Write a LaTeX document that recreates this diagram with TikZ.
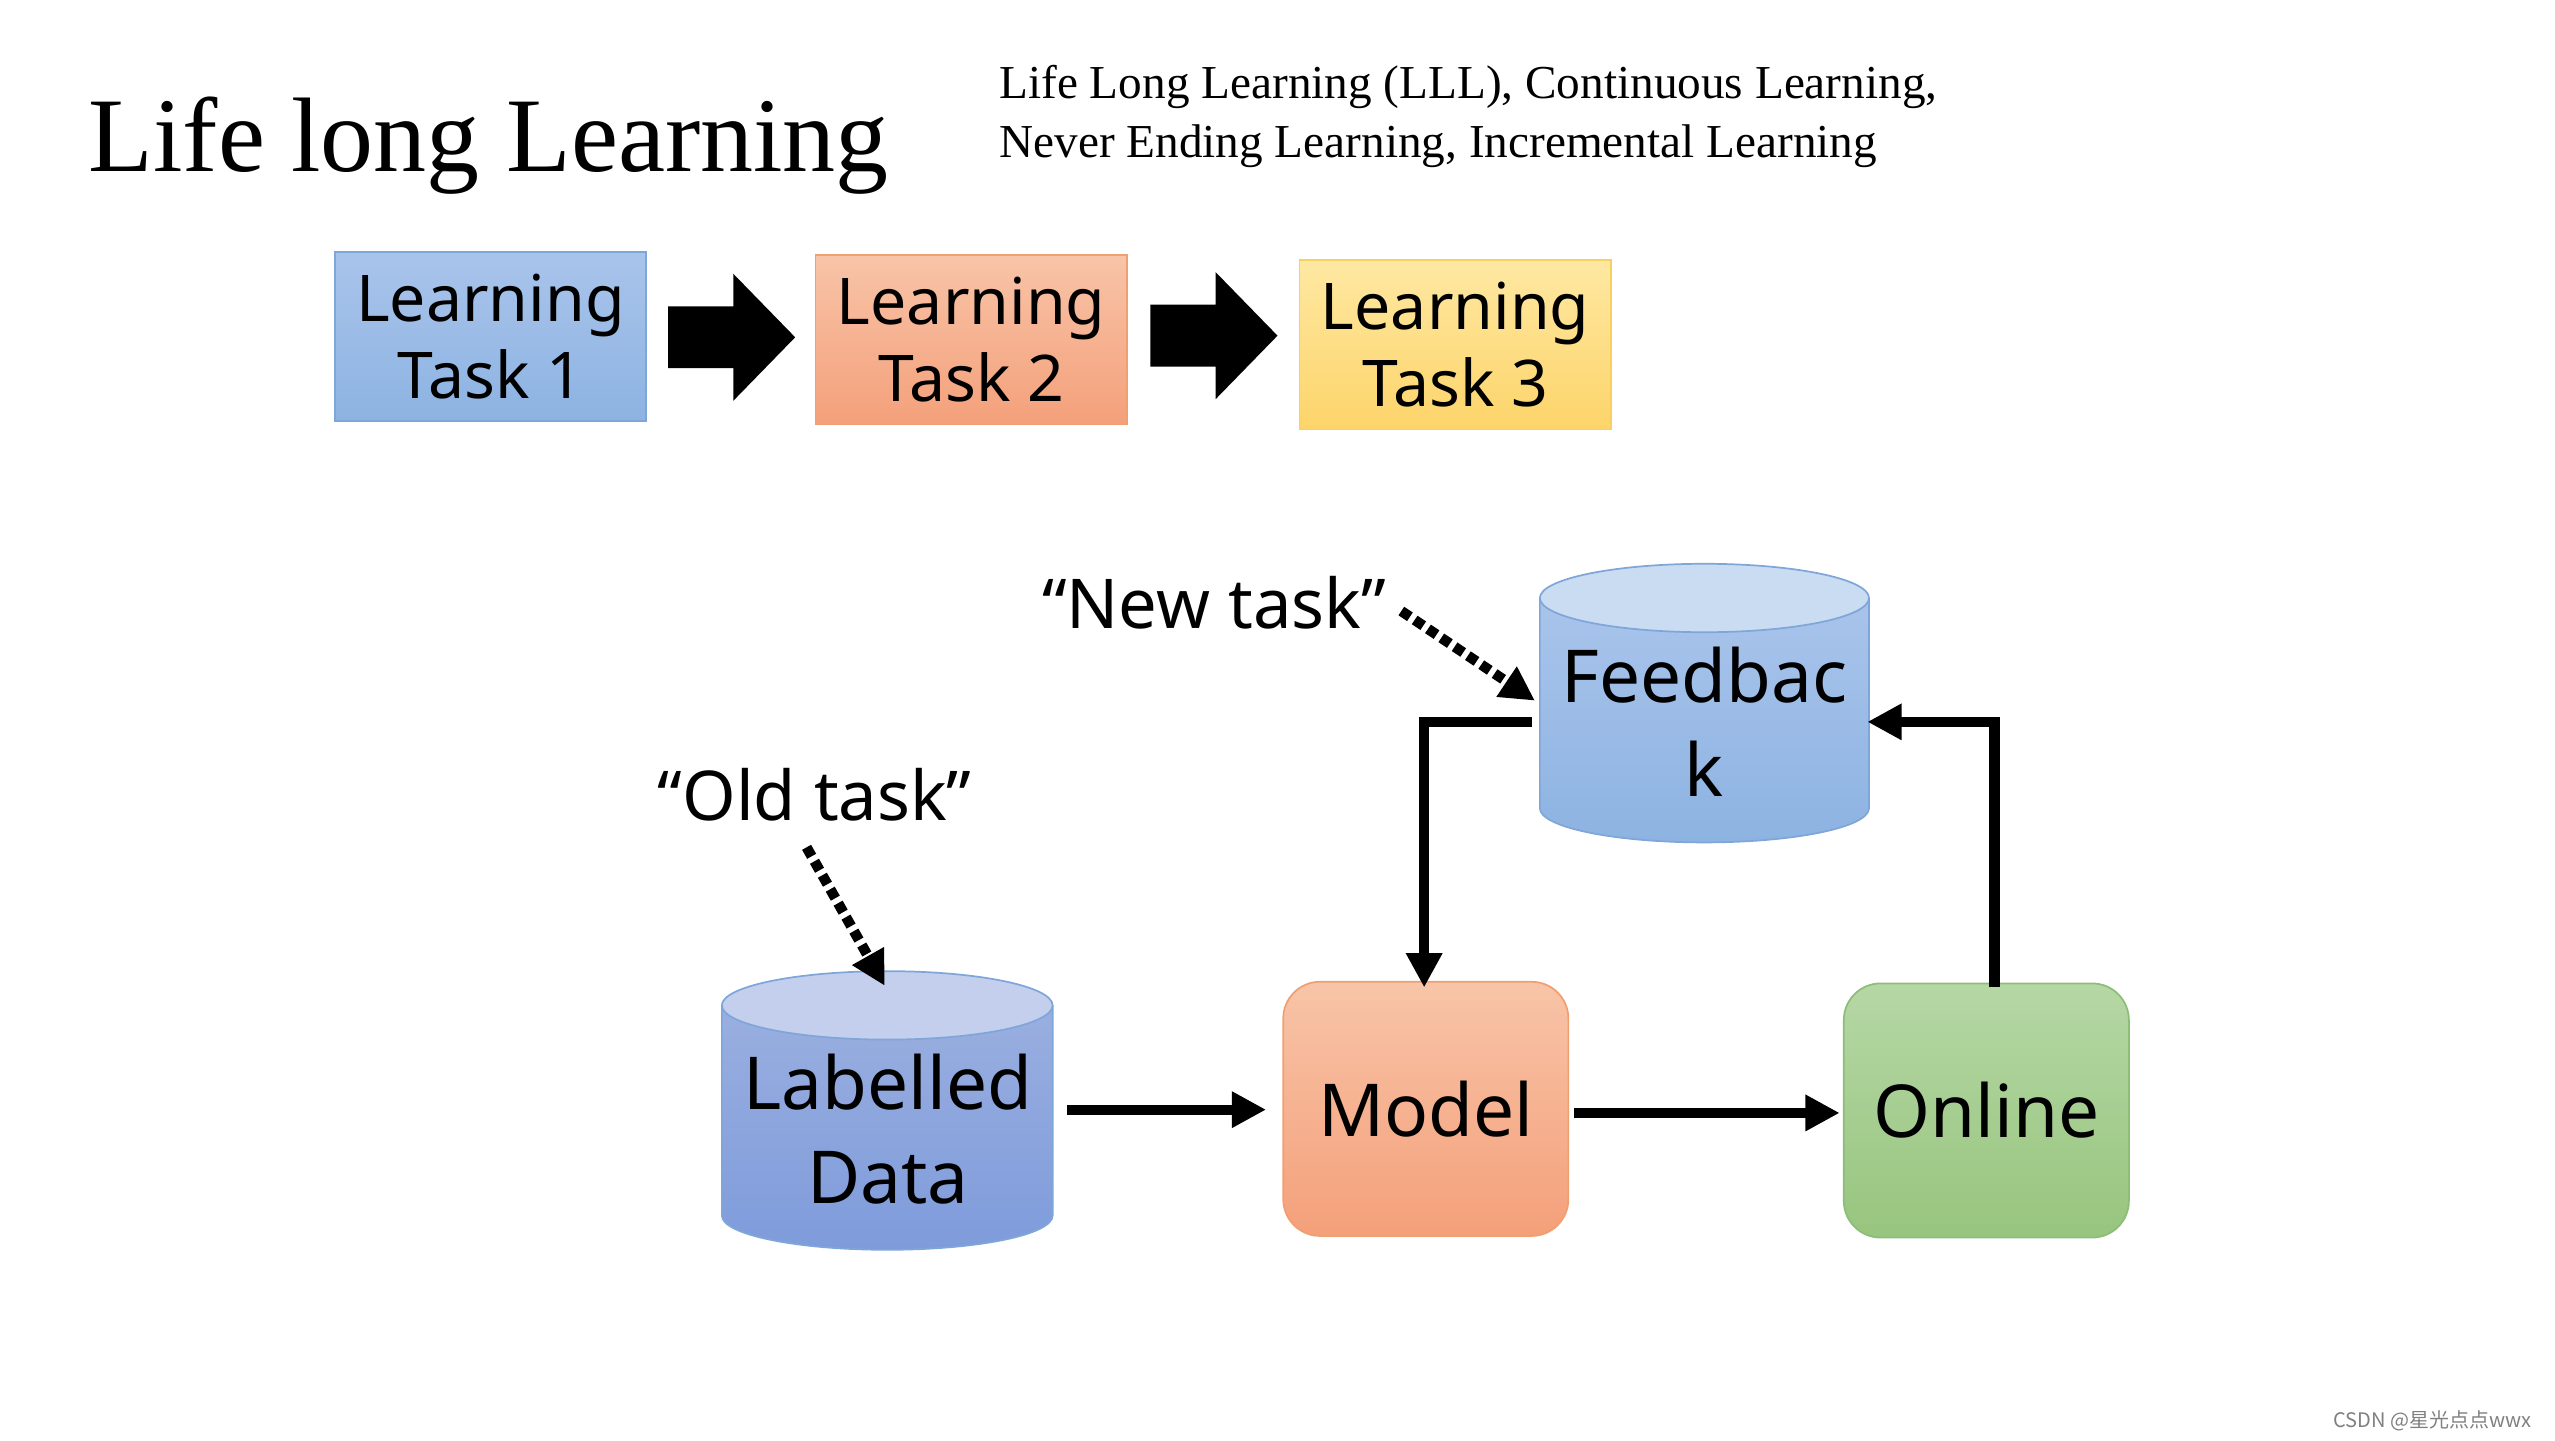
\documentclass[tikz,border=0pt]{standalone}
\usepackage{fontspec}
\setmainfont{Liberation Serif}
\newfontfamily\sansf{Noto Sans}
\newfontfamily\cjk{Noto Sans CJK SC}
\usetikzlibrary{arrows.meta}
\definecolor{bA}{HTML}{A9C4EB}\definecolor{bB}{HTML}{8DB3E2}\definecolor{bL}{HTML}{7FA6D9}
\definecolor{oA}{HTML}{F8C4A8}\definecolor{oB}{HTML}{F4A07A}\definecolor{oL}{HTML}{F0A070}
\definecolor{yA}{HTML}{FEE8A2}\definecolor{yB}{HTML}{FDD46A}\definecolor{yL}{HTML}{F9D060}
\definecolor{gA}{HTML}{B5D7A5}\definecolor{gB}{HTML}{97C57E}\definecolor{gL}{HTML}{8CBE78}
\definecolor{dA}{HTML}{9AAFE0}\definecolor{dB}{HTML}{7E9BDB}\definecolor{dT}{HTML}{C3CFEC}
\definecolor{fT}{HTML}{C9DCF2}
\tikzset{
 taskbox/.style={draw, line width=0.6pt, minimum width=3.82cm, minimum height=2.08cm, anchor=north west, inner sep=0pt, align=center, font=\sansf\fontsize{22.5}{27}\selectfont},
 rbox/.style={draw, line width=0.6pt, rounded corners=0.45cm, minimum width=3.5cm, minimum height=3.12cm, anchor=north west, align=center, font=\sansf\fontsize{25.5}{30}\selectfont},
 conn/.style={line width=3.6pt, -{Triangle[length=0.42cm,width=0.42cm]}},
 dconn/.style={line width=3.6pt, dotted, -{Triangle[length=0.42cm,width=0.42cm]}},
 lbl/.style={font=\sansf\fontsize{24}{28}\selectfont},
}
\begin{document}
\begin{tikzpicture}[x=0.02cm,y=-0.02cm]
\useasboundingbox (0,0) rectangle (1568,884);
\node[anchor=base west, inner sep=0pt, font=\fontsize{37}{42}\selectfont] (title) at (54,105) {Life long Learning};
\node[anchor=north west, align=left, inner sep=0pt, font=\fontsize{16.5}{20.5}\selectfont] (sub) at (613,40) {Life Long Learning (LLL), Continuous Learning,\\Never Ending Learning, Incremental Learning};
\node[taskbox, draw=bL, top color=bA, bottom color=bB] (t1) at (205,154) {Learning\\Task 1};
\node[taskbox, draw=oL, top color=oA, bottom color=oB] (t2) at (500,156) {Learning\\Task 2};
\node[taskbox, draw=yL, top color=yA, bottom color=yB] (t3) at (797,159) {Learning\\Task 3};
\foreach \x/\y in {410/207,706/206}{
 \fill (\x,\y-19) -- (\x+40,\y-19) -- (\x+40,\y-39) -- (\x+78,\y) -- (\x+40,\y+39) -- (\x+40,\y+19) -- (\x,\y+19) -- cycle;}
\newcommand\mycyl[7]{%
 \path[top color=#5, bottom color=#6, draw=bL, line width=0.6pt] (#1,#3) -- (#1,#4) arc[start angle=180,end angle=0,x radius={(#2-#1)/2},y radius=21] -- (#2,#3);
 \draw[fill=#7, draw=bL, line width=0.6pt] ({(#1+#2)/2},#3) ellipse[x radius={(#2-#1)/2}, y radius=21];}
\mycyl{945}{1147}{367}{496}{bA}{bB}{fT}
\mycyl{443}{646}{617}{746}{dA}{dB}{dT}
\node[font=\sansf\fontsize{25.5}{33}\selectfont, align=center] (fb) at (1046,443) {Feedbac\\k};
\node[font=\sansf\fontsize{25.5}{33}\selectfont, align=center] (ld) at (545,693) {Labelled\\Data};
\node[rbox, draw=oL, top color=oA, bottom color=oB] (model) at (787,602) {Model};
\node[rbox, draw=gL, top color=gA, bottom color=gB] (online) at (1131,603) {Online};
\node[lbl] (nt) at (745,370) {“New task”};
\node[lbl] (ot) at (500,488) {“Old task”};
\coordinate (ldR) at (655,681); \coordinate (mL) at (777,681);
\coordinate (mR) at (966,683); \coordinate (oL) at (1129,683);
\coordinate (oT) at (1224,606); \coordinate (fR) at (1146,443);
\coordinate (fL) at (940,443); \coordinate (mT) at (874,606);
\draw[conn] (ldR) -- (mL);
\draw[conn] (mR) -- (oL);
\draw[conn] (oT) |- (fR);
\draw[conn] (fL) -| (mT);
\coordinate (ntE) at (860,375); \coordinate (ntT) at (942,430);
\coordinate (otE) at (495,520); \coordinate (otT) at (543,605);
\draw[dconn] (ntE) -- (ntT);
\draw[dconn] (otE) -- (otT);
\node[anchor=east, text=gray, font=\cjk\fontsize{7}{8}\selectfont] (wm) at (1560,872) {CSDN @星光点点wwx};
\end{tikzpicture}
\end{document}
